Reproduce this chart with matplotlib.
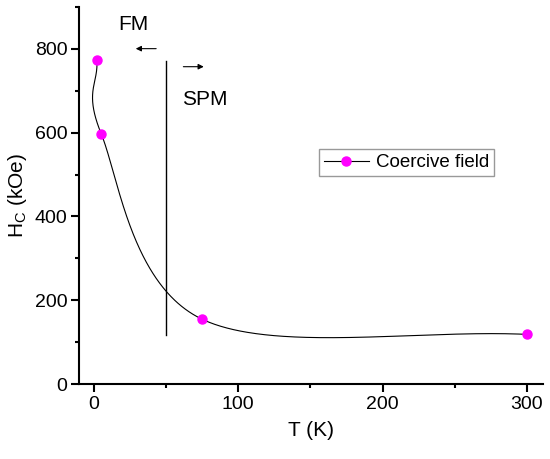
import numpy as np
import matplotlib
matplotlib.use("Agg")
import matplotlib.pyplot as plt
from matplotlib.ticker import MultipleLocator

plt.rcParams['font.family'] = ['Liberation Sans', 'DejaVu Sans']

T = [2, 5, 75, 300]
Hc = [772, 597, 155, 119]
boundary_T = 50
boundary_H = [118, 770]

fig = plt.figure(figsize=(5.5, 4.59), dpi=100)
ax = fig.add_axes([79.3/550, 1-384.3/459, (542.7-79.3)/550, (384.3-6.7)/459])
ax.set_xlim(-10.2, 311)
ax.set_ylim(0, 900)


def catmull_rom(P):
    n = len(P)
    m = np.zeros_like(P)
    m[0] = P[1] - P[0]
    m[-1] = P[-1] - P[-2]
    for i in range(1, n-1):
        m[i] = (P[i+1] - P[i-1]) / 2
    s = np.linspace(0, 1, 200)[:, None]
    h00 = 2*s**3 - 3*s**2 + 1; h10 = s**3 - 2*s**2 + s
    h01 = -2*s**3 + 3*s**2; h11 = s**3 - s**2
    return np.vstack([h00*P[i] + h10*m[i] + h01*P[i+1] + h11*m[i+1] for i in range(n-1)])

# smooth connecting curve computed in display space
fig.canvas.draw()
pts = ax.transData.transform(np.column_stack([T, Hc]))
curve = ax.transData.inverted().transform(catmull_rom(pts))
ax.plot(curve[:, 0], curve[:, 1], color='black', lw=0.8, zorder=2)
ax.plot(T, Hc, 'o', color='#FF00FF', ms=6.5, zorder=3)
ax.plot([], [], '-o', color='black', mfc='#FF00FF', mec='#FF00FF', ms=6.5, lw=0.8, label='Coercive field')

ax.plot([boundary_T, boundary_T], boundary_H, color='black', lw=1.0)

ax.annotate('', xy=(27, 800), xytext=(45, 800),
            arrowprops=dict(arrowstyle='-|>', color='black', lw=0.8, mutation_scale=8))
ax.annotate('', xy=(78, 757), xytext=(60, 757),
            arrowprops=dict(arrowstyle='-|>', color='black', lw=0.8, mutation_scale=8))
ax.text(27.4, 857, 'FM', fontsize=15, ha='center', va='center')
ax.text(77, 678, 'SPM', fontsize=15, ha='center', va='center')

leg = ax.legend(loc='upper left', bbox_to_anchor=((319.3-79.3)/463.4, (384.3-149.3)/377.6),
                fontsize=13.5, frameon=True, fancybox=False, handlelength=2.4,
                borderpad=0.25, handletextpad=0.4, borderaxespad=0)
leg.get_frame().set_edgecolor('#808080')
leg.get_frame().set_linewidth(1.0)

for s in ['top', 'right']:
    ax.spines[s].set_visible(False)
for s in ['left', 'bottom']:
    ax.spines[s].set_linewidth(1.5)

ax.xaxis.set_major_locator(MultipleLocator(100))
ax.xaxis.set_minor_locator(MultipleLocator(50))
ax.yaxis.set_major_locator(MultipleLocator(200))
ax.yaxis.set_minor_locator(MultipleLocator(100))
ax.tick_params(which='major', direction='out', length=5.5, width=1.5, labelsize=14, pad=3)
ax.tick_params(which='minor', direction='out', length=3, width=1.5)

ax.set_xlabel('T (K)', fontsize=15, labelpad=6)
ax.set_ylabel('H$_\\mathregular{C}$ (kOe)', fontsize=15, labelpad=4)

fig.savefig('out.png', dpi=100)
